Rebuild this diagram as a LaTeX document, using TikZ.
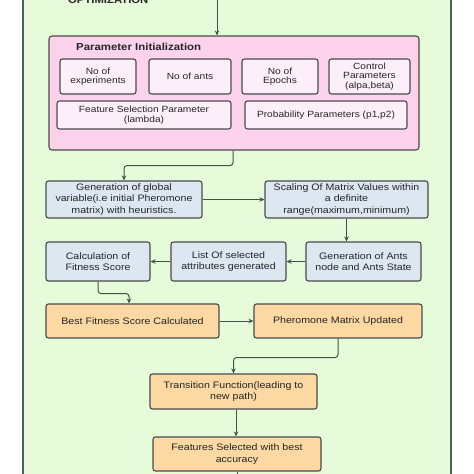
\documentclass[tikz,border=0pt]{standalone}
\usepackage{fontspec}
\setmainfont{Liberation Sans}[FakeStretch=1.13]
\usetikzlibrary{arrows.meta}
\definecolor{bggreen}{HTML}{E5FBDA}
\definecolor{greenline}{HTML}{4E6453}
\definecolor{pinkbg}{HTML}{FCD2EC}
\definecolor{pinkin}{HTML}{FDEFFA}
\definecolor{bluebg}{HTML}{DDE7F2}
\definecolor{orangebg}{HTML}{FCD8A2}
\definecolor{boxline}{HTML}{4A4A4A}
\definecolor{arrowcol}{HTML}{3E5446}
\begin{document}
\begin{tikzpicture}[x=1pt,y=-1pt,
  basebox/.style={draw=boxline, line width=1.1pt, rounded corners=2.5pt, align=center,
    font=\fontsize{9.4}{11.3}\selectfont, inner sep=0pt, text=black!85},
  pinkbox/.style={basebox, fill=pinkin, font=\fontsize{9}{9.5}\selectfont},
  bluebox/.style={basebox, fill=bluebg},
  orangebox/.style={basebox, fill=orangebg},
  conn/.style={draw=arrowcol, line width=1pt, rounded corners=3pt},
  arr/.style={conn, -{Stealth[length=5pt,width=4.5pt]}}]
\useasboundingbox (0,0) rectangle (474,474);
\clip (0,0) rectangle (474,474);
\fill[white] (0,0) rectangle (474,474);
% outer green panel
\draw[draw=greenline, fill=bggreen, line width=1.1pt] (23,-10) rectangle (451,490);
\node[anchor=base west, inner sep=0pt, font=\bfseries\fontsize{10}{12}\selectfont, text=black!85] (opt) at (68,3.5) {OPTIMIZATION};
\coordinate (top) at (217,-5);
% parameter initialization panel
\node[draw=boxline, fill=pinkbg, line width=1.1pt, rounded corners=3pt, minimum width=370, minimum height=114, inner sep=0pt] (pink) at (234,93) {};
\node[anchor=west, inner sep=0pt, font=\bfseries\fontsize{10.1}{12}\selectfont, text=black!85] (ptitle) at (76,46.5) {Parameter Initialization};
\node[pinkbox, minimum width=76, minimum height=35] (b1) at (98,76.5) {No of\\experiments};
\node[pinkbox, minimum width=82, minimum height=35] (b2) at (190,76.5) {No of ants};
\node[pinkbox, minimum width=76, minimum height=35] (b3) at (280,76.5) {No of\\Epochs};
\node[pinkbox, minimum width=81, minimum height=35] (b4) at (369.5,76.5) {Control\\Parameters\\(alpa,beta)};
\node[pinkbox, minimum width=174, minimum height=28] (b5) at (144,115) {Feature Selection Parameter\\(lambda)};
\node[pinkbox, minimum width=162, minimum height=28] (b6) at (326,115) {Probability Parameters (p1,p2)};
% blue steps
\node[bluebox, minimum width=156, minimum height=37] (gen) at (124,199.5) {Generation of global\\variable(i.e initial Pheromone\\matrix) with heuristics.};
\node[bluebox, minimum width=163, minimum height=37] (scal) at (346.5,199.5) {Scaling Of Matrix Values within\\a definite\\range(maximum,minimum)};
\node[bluebox, minimum width=104, minimum height=39] (calc) at (98,261.5) {Calculation of\\Fitness Score};
\node[bluebox, minimum width=115, minimum height=39] (list) at (228.5,261.5) {List Of selected\\attributes generated};
\node[bluebox, minimum width=115, minimum height=39] (ants) at (363.5,261.5) {Generation of Ants\\node and Ants State};
% orange steps
\node[orangebox, minimum width=173, minimum height=34] (best) at (132.5,321) {Best Fitness Score Calculated};
\node[orangebox, minimum width=168, minimum height=34] (pher) at (338,321) {Pheromone Matrix Updated};
\node[orangebox, minimum width=167, minimum height=35] (trans) at (233.5,391.5) {Transition Function(leading to\\new path)};
\node[orangebox, minimum width=168, minimum height=34] (feat) at (237,454) {Features Selected with best\\accuracy};
\coordinate (bottom) at (237,490);
% connectors
\draw[arr] (top) -- (top |- pink.north);
\draw[arr] ([xshift=-1pt]pink.south) -- ++(0,15) -| (gen.north);
\draw[arr] (gen.east) -- (scal.west);
\draw[arr] (scal.south) -- (scal.south |- ants.north);
\draw[arr] (ants.west) -- (list.east);
\draw[arr] (list.west) -- (calc.east);
\draw[arr] (calc.south) -- ++(0,12) -| ([xshift=-3.5pt]best.north);
\draw[arr] (best.east) -- (pher.west);
\draw[arr] (pher.south) -- ++(0,19) -| (trans.north);
\draw[arr] ([xshift=2.5pt]trans.south) -- ([xshift=-1pt]feat.north);
\draw[conn] (feat.south) -- (bottom);
\end{tikzpicture}
\end{document}
